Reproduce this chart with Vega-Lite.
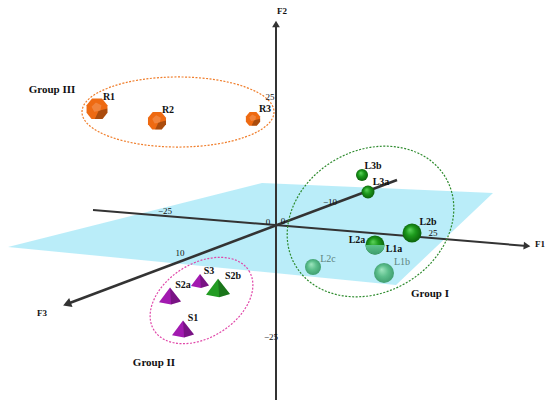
{
  "$schema": "https://vega.github.io/schema/vega-lite/v6.json",
  "width": 550,
  "height": 406,
  "autosize": {"type": "fit", "contains": "padding"},
  "padding": 0,
  "background": "white",
  "config": {
    "view": {"stroke": null},
    "text": {"font": "Liberation Serif"}
  },
  "datasets": {
    "plane": [
      {"u": -53.6, "v": -4.4, "v2": -4.4},
      {"u": -2.8, "v": 8.4, "v2": -9.37},
      {"u": 24, "v": 7.24, "v2": -12},
      {"u": 43.4, "v": 6.4, "v2": 6.4}
    ],
    "axes": [
      {"axis": "F1", "u": -36.6, "v": 3, "u2": 50.2, "v2": -4.2},
      {"axis": "F2", "u": 0, "v": -35, "u2": 0, "v2": 40.2},
      {"axis": "F3", "u": 24.2, "v": 9, "u2": -41.8, "v2": -15.8}
    ],
    "groups": [
      {"group": "Group III", "u": -19.6, "v": 22.6},
      {"group": "Group I", "u": 18.9, "v": 0.7},
      {"group": "Group II", "u": -14.9, "v": -15.1}
    ],
    "markers": [
      {"id": "R1", "u": -35.8, "v": 23.2, "d": 22, "cluster": "III", "form": "dodeca", "pos": "above"},
      {"id": "R2", "u": -23.8, "v": 20.8, "d": 19, "cluster": "III", "form": "dodeca", "pos": "above"},
      {"id": "R3", "u": -4.6, "v": 21.2, "d": 15, "cluster": "III", "form": "dodeca", "pos": "above"},
      {"id": "L3b", "u": 17.2, "v": 10, "d": 12, "cluster": "I", "form": "sphere", "pos": "above"},
      {"id": "L3a", "u": 18.4, "v": 6.6, "d": 13, "cluster": "I", "form": "sphere", "pos": "above"},
      {"id": "L2b", "u": 27.2, "v": -1.6, "d": 19, "cluster": "I", "form": "sphere", "pos": "above"},
      {"id": "L2a", "u": 19.8, "v": -4, "d": 19, "cluster": "I", "form": "sphere", "pos": "above"},
      {"id": "L1a", "u": 19.8, "v": -4, "d": 19, "cluster": "I", "form": "sphere", "pos": "half"},
      {"id": "L2c", "u": 7.4, "v": -8.4, "d": 16, "cluster": "I", "form": "sphere", "pos": "below"},
      {"id": "L1b", "u": 21.6, "v": -9.6, "d": 20, "cluster": "I", "form": "sphere", "pos": "below"},
      {"id": "S2a", "u": -21.2, "v": -14.2, "d": 22, "cluster": "II", "form": "pyramid", "pos": "below"},
      {"id": "S3", "u": -15.2, "v": -11.2, "d": 18, "cluster": "II", "form": "pyramid", "pos": "below"},
      {"id": "S2b", "u": -11.6, "v": -12.6, "d": 24, "cluster": "I", "form": "pyramid", "pos": "below"},
      {"id": "S1", "u": -18.6, "v": -20.8, "d": 22, "cluster": "II", "form": "pyramid", "pos": "below"}
    ],
    "labels": [
      {"t": "R1", "u": -33.4, "v": 25.6, "k": "pt"},
      {"t": "R2", "u": -21.6, "v": 23, "k": "pt"},
      {"t": "R3", "u": -2.2, "v": 23.2, "k": "pt"},
      {"t": "L3b", "u": 19.4, "v": 11.8, "k": "pt"},
      {"t": "L3a", "u": 21, "v": 8.6, "k": "pt"},
      {"t": "L2b", "u": 30.4, "v": 0.6, "k": "pt"},
      {"t": "L2a", "u": 16.2, "v": -3, "k": "pt"},
      {"t": "L1a", "u": 23.6, "v": -4.8, "k": "pt"},
      {"t": "S3", "u": -13.4, "v": -9.2, "k": "pt"},
      {"t": "S2b", "u": -8.6, "v": -10.2, "k": "pt"},
      {"t": "S2a", "u": -18.6, "v": -12, "k": "pt"},
      {"t": "S1", "u": -16.6, "v": -18.6, "k": "pt"},
      {"t": "L2c", "u": 10.4, "v": -6.8, "k": "ptb"},
      {"t": "L1b", "u": 25.2, "v": -7.4, "k": "ptb"},
      {"t": "Group III", "u": -44.8, "v": 27, "k": "grp"},
      {"t": "Group I", "u": 30.8, "v": -13.8, "k": "grp"},
      {"t": "Group II", "u": -24.4, "v": -27.6, "k": "grp"},
      {"t": "F2", "u": 1.2, "v": 42.8, "k": "ax"},
      {"t": "F1", "u": 52.8, "v": -3.8, "k": "ax"},
      {"t": "F3", "u": -46.8, "v": -17.6, "k": "ax"},
      {"t": "25", "u": -1.2, "v": 25.6, "k": "tick"},
      {"t": "−25", "u": -1, "v": -22.4, "k": "tick"},
      {"t": "−25", "u": -22.2, "v": 2.8, "k": "tick"},
      {"t": "25", "u": 31.4, "v": -1.6, "k": "tick"},
      {"t": "−10", "u": 10.8, "v": 4.6, "k": "tick"},
      {"t": "10", "u": -19.2, "v": -5.6, "k": "tick"},
      {"t": "0", "u": -1.6, "v": 0.6, "k": "tick"},
      {"t": "0", "u": 1.4, "v": 0.8, "k": "tick"}
    ]
  },
  "encoding": {
    "x": {"field": "u", "type": "quantitative", "scale": {"domain": [-55.2, 54.8], "nice": false, "zero": false}, "axis": null},
    "y": {"field": "v", "type": "quantitative", "scale": {"domain": [-36.2, 45], "nice": false, "zero": false}, "axis": null}
  },
  "layer": [
    {
      "data": {"name": "plane"},
      "mark": {"type": "area", "color": "#b3ebf8", "opacity": 0.9},
      "encoding": {"y2": {"field": "v2"}}
    },
    {
      "data": {"name": "axes"},
      "transform": [{"filter": "datum.axis != 'F3'"}],
      "mark": {"type": "rule", "color": "#333333", "strokeWidth": 2},
      "encoding": {"x2": {"field": "u2"}, "y2": {"field": "v2"}}
    },
    {
      "data": {"name": "axes"},
      "transform": [{"filter": "datum.axis == 'F3'"}],
      "mark": {"type": "rule", "color": "#333333", "strokeWidth": 2.6},
      "encoding": {"x2": {"field": "u2"}, "y2": {"field": "v2"}}
    },
    {
      "data": {"name": "axes"},
      "transform": [{"filter": "datum.axis == 'F2'"}],
      "mark": {"type": "point", "shape": "triangle-up", "filled": true, "color": "#333333", "size": 60, "opacity": 1},
      "encoding": {"x": {"field": "u2", "type": "quantitative"}, "y": {"field": "v2", "type": "quantitative"}}
    },
    {
      "data": {"name": "axes"},
      "transform": [{"filter": "datum.axis == 'F1'"}],
      "mark": {"type": "point", "shape": "triangle-right", "filled": true, "color": "#333333", "size": 60, "angle": 4.7, "opacity": 1},
      "encoding": {"x": {"field": "u2", "type": "quantitative"}, "y": {"field": "v2", "type": "quantitative"}}
    },
    {
      "data": {"name": "axes"},
      "transform": [{"filter": "datum.axis == 'F3'"}],
      "mark": {"type": "point", "shape": "triangle-right", "filled": true, "color": "#333333", "size": 90, "angle": 159.3, "opacity": 1},
      "encoding": {"x": {"field": "u2", "type": "quantitative"}, "y": {"field": "v2", "type": "quantitative"}}
    },
    {
      "data": {"name": "groups"},
      "transform": [{"filter": "datum.group == 'Group III'"}],
      "mark": {"type": "point", "filled": false, "stroke": "#f07d2a", "strokeWidth": 1.2, "strokeDash": [2, 1.5], "opacity": 1, "size": 36864,
        "shape": "M 1 0 C 1 0.2016 0.5523 0.365 0 0.365 C -0.5523 0.365 -1 0.2016 -1 0 C -1 -0.2016 -0.5523 -0.365 0 -0.365 C 0.5523 -0.365 1 -0.2016 1 0 Z"}
    },
    {
      "data": {"name": "groups"},
      "transform": [{"filter": "datum.group == 'Group I'"}],
      "mark": {"type": "point", "filled": false, "stroke": "#2e8b2e", "strokeWidth": 1.2, "strokeDash": [2, 1.5], "opacity": 1, "size": 30276, "angle": 330,
        "shape": "M 1 0 C 1 0.4507 0.5523 0.816 0 0.816 C -0.5523 0.816 -1 0.4507 -1 0 C -1 -0.4507 -0.5523 -0.816 0 -0.816 C 0.5523 -0.816 1 -0.4507 1 0 Z"}
    },
    {
      "data": {"name": "groups"},
      "transform": [{"filter": "datum.group == 'Group II'"}],
      "mark": {"type": "point", "filled": false, "stroke": "#e046a8", "strokeWidth": 1.2, "strokeDash": [2, 1.5], "opacity": 1, "size": 12544, "angle": 328,
        "shape": "M 1 0 C 1 0.3645 0.5523 0.66 0 0.66 C -0.5523 0.66 -1 0.3645 -1 0 C -1 -0.3645 -0.5523 -0.66 0 -0.66 C 0.5523 -0.66 1 -0.3645 1 0 Z"}
    },
    {
      "data": {"name": "markers"},
      "transform": [{"filter": "datum.form == 'dodeca'"}],
      "mark": {"type": "point", "filled": true, "opacity": 1, "strokeWidth": 0,
        "shape": "M -0.45 -0.95 L 0.45 -0.95 L 0.95 -0.35 L 0.95 0.35 L 0.5 0.9 L -0.5 0.9 L -0.95 0.35 L -0.95 -0.35 Z"},
      "encoding": {
        "color": {"field": "cluster", "type": "nominal", "scale": {"domain": ["I", "II", "III"], "range": ["#239c23", "#a21ab0", "#ee6a12"]}, "legend": null},
        "size": {"field": "d", "type": "quantitative", "scale": {"type": "pow", "exponent": 2, "domain": [10, 25], "range": [100, 625]}, "legend": null}
      }
    },
    {
      "data": {"name": "markers"},
      "transform": [{"filter": "datum.form == 'dodeca'"}],
      "mark": {"type": "point", "filled": true, "color": "black", "opacity": 0.28, "strokeWidth": 0,
        "shape": "M 0.15 0.15 L 0.95 -0.05 L 0.95 0.35 L 0.5 0.9 L -0.2 0.9 Z"},
      "encoding": {"size": {"field": "d", "type": "quantitative", "legend": null}}
    },
    {
      "data": {"name": "markers"},
      "transform": [{"filter": "datum.form == 'dodeca'"}],
      "mark": {"type": "point", "filled": true, "color": "white", "opacity": 0.18, "strokeWidth": 0,
        "shape": "M -0.1 -0.6 L 0.4 -0.35 L 0.3 0.15 L -0.25 0.25 L -0.5 -0.2 Z"},
      "encoding": {"size": {"field": "d", "type": "quantitative", "legend": null}}
    },
    {
      "data": {"name": "markers"},
      "transform": [{"filter": "datum.form == 'sphere' && datum.pos == 'above'"}],
      "mark": {"type": "point", "shape": "circle", "filled": true, "opacity": 1, "strokeWidth": 0,
        "fill": {"gradient": "radial", "x1": 0.38, "y1": 0.32, "r1": 0, "x2": 0.5, "y2": 0.5, "r2": 0.55,
          "stops": [{"offset": 0, "color": "#5fd65f"}, {"offset": 0.45, "color": "#1c9a1c"}, {"offset": 1, "color": "#0a5c0a"}]}},
      "encoding": {"size": {"field": "d", "type": "quantitative", "legend": null}}
    },
    {
      "data": {"name": "markers"},
      "transform": [{"filter": "datum.form == 'sphere' && datum.pos == 'below'"}],
      "mark": {"type": "point", "shape": "circle", "filled": true, "opacity": 1, "strokeWidth": 0,
        "fill": {"gradient": "radial", "x1": 0.38, "y1": 0.32, "r1": 0, "x2": 0.5, "y2": 0.5, "r2": 0.55,
          "stops": [{"offset": 0, "color": "#9fe6bf"}, {"offset": 0.5, "color": "#5cbf8c"}, {"offset": 1, "color": "#3c9a6c"}]}},
      "encoding": {"size": {"field": "d", "type": "quantitative", "legend": null}}
    },
    {
      "data": {"name": "markers"},
      "transform": [{"filter": "datum.pos == 'half'"}],
      "mark": {"type": "point", "filled": true, "opacity": 1, "strokeWidth": 0,
        "shape": "M -1 0 C -1 0.5523 -0.5523 1 0 1 C 0.5523 1 1 0.5523 1 0 Z",
        "fill": {"gradient": "linear", "x1": 0, "y1": 0, "x2": 0, "y2": 1,
          "stops": [{"offset": 0, "color": "#5cc48a"}, {"offset": 1, "color": "#3d9c6c"}]}},
      "encoding": {"size": {"field": "d", "type": "quantitative", "legend": null}}
    },
    {
      "data": {"name": "markers"},
      "transform": [{"filter": "datum.form == 'pyramid'"}],
      "mark": {"type": "point", "filled": true, "opacity": 1, "strokeWidth": 0,
        "shape": "M 0 -0.78 L 1 0.5 L 0.1 0.78 L -1 0.56 Z"},
      "encoding": {
        "color": {"field": "cluster", "type": "nominal", "legend": null},
        "size": {"field": "d", "type": "quantitative", "legend": null}
      }
    },
    {
      "data": {"name": "markers"},
      "transform": [{"filter": "datum.form == 'pyramid'"}],
      "mark": {"type": "point", "filled": true, "color": "black", "opacity": 0.25, "strokeWidth": 0,
        "shape": "M 0 -0.78 L 1 0.5 L 0.1 0.78 Z"},
      "encoding": {"size": {"field": "d", "type": "quantitative", "legend": null}}
    },
    {
      "data": {"name": "labels"},
      "transform": [{"filter": "datum.k == 'pt'"}],
      "mark": {"type": "text", "fontSize": 10, "fontWeight": "bold", "color": "#111111"},
      "encoding": {"text": {"field": "t"}}
    },
    {
      "data": {"name": "labels"},
      "transform": [{"filter": "datum.k == 'ptb'"}],
      "mark": {"type": "text", "fontSize": 10, "color": "#5f8580"},
      "encoding": {"text": {"field": "t"}}
    },
    {
      "data": {"name": "labels"},
      "transform": [{"filter": "datum.k == 'grp'"}],
      "mark": {"type": "text", "fontSize": 11, "fontWeight": "bold", "color": "#111111"},
      "encoding": {"text": {"field": "t"}}
    },
    {
      "data": {"name": "labels"},
      "transform": [{"filter": "datum.k == 'ax'"}],
      "mark": {"type": "text", "fontSize": 9, "fontWeight": "bold", "color": "#111111"},
      "encoding": {"text": {"field": "t"}}
    },
    {
      "data": {"name": "labels"},
      "transform": [{"filter": "datum.k == 'tick'"}],
      "mark": {"type": "text", "fontSize": 9, "color": "#111111"},
      "encoding": {"text": {"field": "t"}}
    }
  ]
}
